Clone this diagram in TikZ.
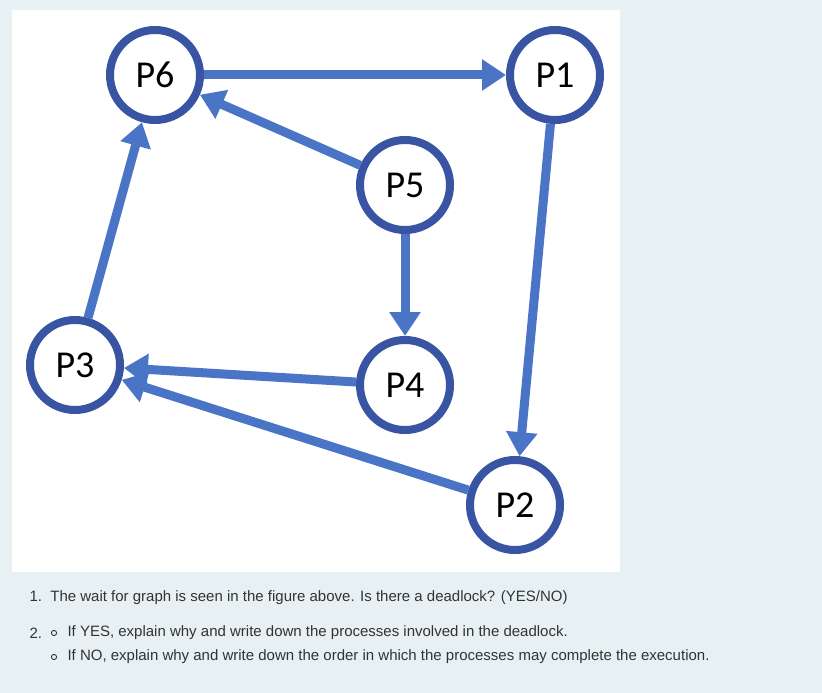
\documentclass[tikz,border=0pt]{standalone}
\usepackage{fontspec}
\setmainfont{Liberation Sans}
\newfontfamily\pfont{Carlito}
\usetikzlibrary{arrows.meta}
\definecolor{bg}{HTML}{E7F1F4}
\definecolor{ring}{HTML}{3A54A4}
\definecolor{arr}{HTML}{4A74C6}
\definecolor{txt}{HTML}{333333}
\begin{document}
\begin{tikzpicture}[x=1pt,y=-1pt,
  proc/.style={circle,draw=ring,line width=8pt,fill=white,minimum size=90pt,inner sep=0pt,outer sep=4pt,font=\pfont\fontsize{38}{40}\selectfont},
  edge/.style={draw=arr,line width=9pt,-{Triangle[length=24pt,width=30pt]}},
  line/.style={anchor=west,text=txt,font=\fontsize{15}{18}\selectfont}]
\fill[bg] (0,0) rectangle (822,693);
\useasboundingbox (0,0) rectangle (822,693);
\fill[white] (12,10) rectangle (620,572);
\node[proc] (P6) at (155,75) {P6};
\node[proc] (P1) at (555,75) {P1};
\node[proc] (P5) at (405,185) {P5};
\node[proc] (P3) at (75,365) {P3};
\node[proc] (P4) at (405,385) {P4};
\node[proc] (P2) at (515,505) {P2};
\begin{scope}[on background layer/.style={}]
\end{scope}
\draw[edge] (P6) -- (P1);
\draw[edge] (P5) -- (P6);
\draw[edge] (P1) -- (P2);
\draw[edge] (P5) -- (P4);
\draw[edge] (P3) -- (P6);
\draw[edge] (P4) -- (P3);
\draw[edge] (P2) -- (P3);
\node[line] (l1) at (26,598) {1.\ \ The wait for graph is seen in the figure above. Is there a deadlock? (YES/NO)};
\node[line] (l2) at (26,633) {2.};
\draw[txt,line width=0.9pt] (54,633) circle (2.6pt);
\node[line] (l3) at (64,633) {If YES, explain why and write down the processes involved in the deadlock.};
\draw[txt,line width=0.9pt] (54,657) circle (2.6pt);
\node[line] (l4) at (64,657) {If NO, explain why and write down the order in which the processes may complete the execution.};
\end{tikzpicture}
\end{document}
